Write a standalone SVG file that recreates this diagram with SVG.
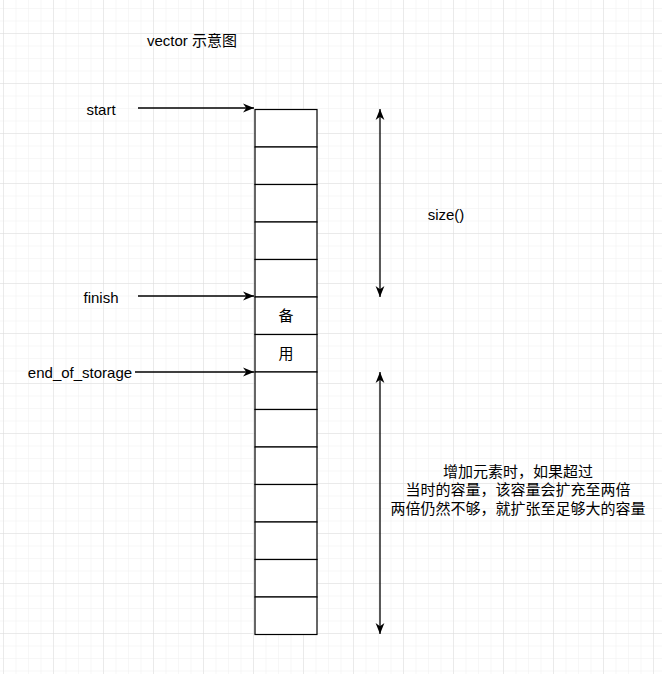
<svg xmlns="http://www.w3.org/2000/svg" width="662" height="674" viewBox="0 0 662 674">
<defs>
<pattern id="minor" x="4" y="9" width="12.5" height="12.5" patternUnits="userSpaceOnUse"><path d="M12.5 0V12.5H0" fill="none" stroke="#f0f0f0" stroke-width="1"/></pattern>
<pattern id="major" x="4" y="-16" width="50" height="50" patternUnits="userSpaceOnUse"><path d="M50 0V50H0" fill="none" stroke="#dcdcdc" stroke-width="1"/></pattern>
<marker id="ah" viewBox="0 0 10 10" refX="10" refY="5" markerWidth="11" markerHeight="11" orient="auto-start-reverse" markerUnits="userSpaceOnUse"><path d="M0 1L10 5L0 9L3 5Z" fill="#000"/></marker>
<style>
text{font-family:"Liberation Sans","Noto Sans CJK SC",sans-serif;font-size:15px;fill:#000}
.c{fill:#fff;stroke:#000;stroke-width:1.2}
.l{stroke:#000;stroke-width:1.3;fill:none}
</style>
</defs>
<rect width="662" height="674" fill="#fff"/>
<rect width="662" height="674" fill="url(#minor)"/>
<rect width="662" height="674" fill="url(#major)"/>
<g id="title"><text x="192" y="46" text-anchor="middle">vector 示意图</text></g>
<g id="array">
<rect class="c" x="255" y="109.5" width="62" height="37.5"/>
<rect class="c" x="255" y="147" width="62" height="37.5"/>
<rect class="c" x="255" y="184.5" width="62" height="37.5"/>
<rect class="c" x="255" y="222" width="62" height="37.5"/>
<rect class="c" x="255" y="259.5" width="62" height="37.5"/>
<rect class="c" x="255" y="297" width="62" height="37.5"/>
<rect class="c" x="255" y="334.5" width="62" height="37.5"/>
<rect class="c" x="255" y="372" width="62" height="37.5"/>
<rect class="c" x="255" y="409.5" width="62" height="37.5"/>
<rect class="c" x="255" y="447" width="62" height="37.5"/>
<rect class="c" x="255" y="484.5" width="62" height="37.5"/>
<rect class="c" x="255" y="522" width="62" height="37.5"/>
<rect class="c" x="255" y="559.5" width="62" height="37.5"/>
<rect class="c" x="255" y="597" width="62" height="37.5"/>
<text x="286" y="321" text-anchor="middle">备</text>
<text x="286" y="359" text-anchor="middle">用</text>
</g>
<g id="labels">
<text x="101" y="115" text-anchor="middle">start</text>
<text x="101" y="303" text-anchor="middle">finish</text>
<text x="80" y="378" text-anchor="middle">end_of_storage</text>
<text x="446" y="220" text-anchor="middle">size()</text>
<text x="518" y="477" text-anchor="middle">增加元素时，如果超过</text>
<text x="518" y="495" text-anchor="middle">当时的容量，该容量会扩充至两倍</text>
<text x="518" y="514" text-anchor="middle">两倍仍然不够，就扩张至足够大的容量</text>
</g>
<g id="connectors">
<line class="l" x1="138" y1="108" x2="254" y2="108" marker-end="url(#ah)"/>
<line class="l" x1="138" y1="296" x2="254" y2="296" marker-end="url(#ah)"/>
<line class="l" x1="135" y1="372" x2="254" y2="372" marker-end="url(#ah)"/>
<line class="l" x1="380" y1="109" x2="380" y2="297" marker-start="url(#ah)" marker-end="url(#ah)"/>
<line class="l" x1="380" y1="372" x2="380" y2="634" marker-start="url(#ah)" marker-end="url(#ah)"/>
</g>
</svg>
